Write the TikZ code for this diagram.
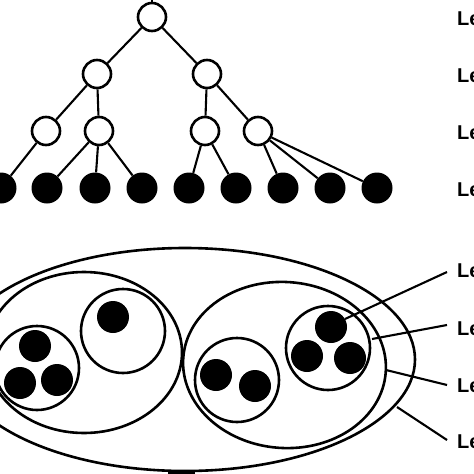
\documentclass[tikz,border=0pt]{standalone}
\usepackage{fontspec}
\setmainfont{Liberation Sans}
\begin{document}
\begin{tikzpicture}[x=1pt,y=-1pt,
  open/.style={circle,draw,line width=2.6pt,fill=white,minimum size=28pt,inner sep=0pt},
  leaf/.style={circle,fill=black,minimum size=31pt,inner sep=0pt},
  dot/.style={circle,fill=black,minimum size=32pt,inner sep=0pt},
  edge/.style={line width=2.1pt},
  ring/.style={line width=2.6pt},
  lbl/.style={anchor=base west,inner sep=0pt,font=\fontsize{20}{20}\selectfont\bfseries}]
\useasboundingbox (0,0) rectangle (474,474);
% tree
\coordinate (top) at (152,-2);
\node[open] (r) at (152,17) {};
\node[open] (a) at (97,74) {};
\node[open] (b) at (207,74) {};
\node[open] (a1) at (46,131) {};
\node[open] (a2) at (99,131) {};
\node[open] (b1) at (205,131) {};
\node[open] (b2) at (258,131) {};
\foreach \i/\x in {1/1,2/47,3/95,4/142,5/189,6/236,7/283,8/330,9/377}
  \node[leaf] (l\i) at (\x,188) {};
\draw[edge] (r) -- (top);
\draw[edge] (r) -- (a);
\draw[edge] (r) -- (b);
\draw[edge] (a) -- (a1);
\draw[edge] (a) -- (a2);
\draw[edge] (b) -- (b1);
\draw[edge] (b) -- (b2);
\draw[edge] (a1) -- (l1);
\draw[edge] (a2) -- (l2);
\draw[edge] (a2) -- (l3);
\draw[edge] (a2) -- (l4);
\draw[edge] (b1) -- (l5);
\draw[edge] (b1) -- (l6);
\draw[edge] (b2) -- (l7);
\draw[edge] (b2) -- (l8);
\draw[edge] (b2) -- (l9);
% top labels
\node[lbl] (t1) at (457,25) {Le};
\node[lbl] (t2) at (457,82) {Le};
\node[lbl] (t3) at (457,139) {Le};
\node[lbl] (t4) at (457,196) {Le};
% nested sets
\draw[ring] (185,359.5) ellipse [x radius=230, y radius=111.5];
\draw[ring] (84,352.5) ellipse [x radius=98, y radius=80.5];
\draw[ring,rotate around={-4:(284.5,365)}] (284.5,365) ellipse [x radius=101.5, y radius=83];
\draw[ring] (37,368) circle [radius=42];
\draw[ring] (123,331) circle [radius=42];
\draw[ring] (237,380) circle [radius=42];
\draw[ring] (328,348) circle [radius=42];
\node[dot] (d1) at (35,346) {};
\node[dot] (d2) at (20,383) {};
\node[dot] (d3) at (57,380) {};
\node[dot] (d4) at (113,317) {};
\node[dot] (d5) at (216,375) {};
\node[dot] (d6) at (255,386) {};
\node[dot] (d7) at (331,327) {};
\node[dot] (d8) at (307,356) {};
\node[dot] (d9) at (350,358) {};
\fill (168,471.5) rectangle (195,474);
% bottom labels and pointers
\node[lbl] (b1l) at (457,277) {Le};
\node[lbl] (b2l) at (457,335) {Le};
\node[lbl] (b3l) at (457,392) {Le};
\node[lbl] (b4l) at (457,448) {Le};
\coordinate (p1) at (345,319);
\coordinate (p2) at (372,339);
\coordinate (p3) at (386,370);
\coordinate (p4) at (397,407);
\coordinate (q1) at (447,272);
\coordinate (q2) at (447,325);
\coordinate (q3) at (447,385);
\coordinate (q4) at (447,440);
\draw[edge] (p1) -- (q1);
\draw[edge] (p2) -- (q2);
\draw[edge] (p3) -- (q3);
\draw[edge] (p4) -- (q4);
\end{tikzpicture}
\end{document}
